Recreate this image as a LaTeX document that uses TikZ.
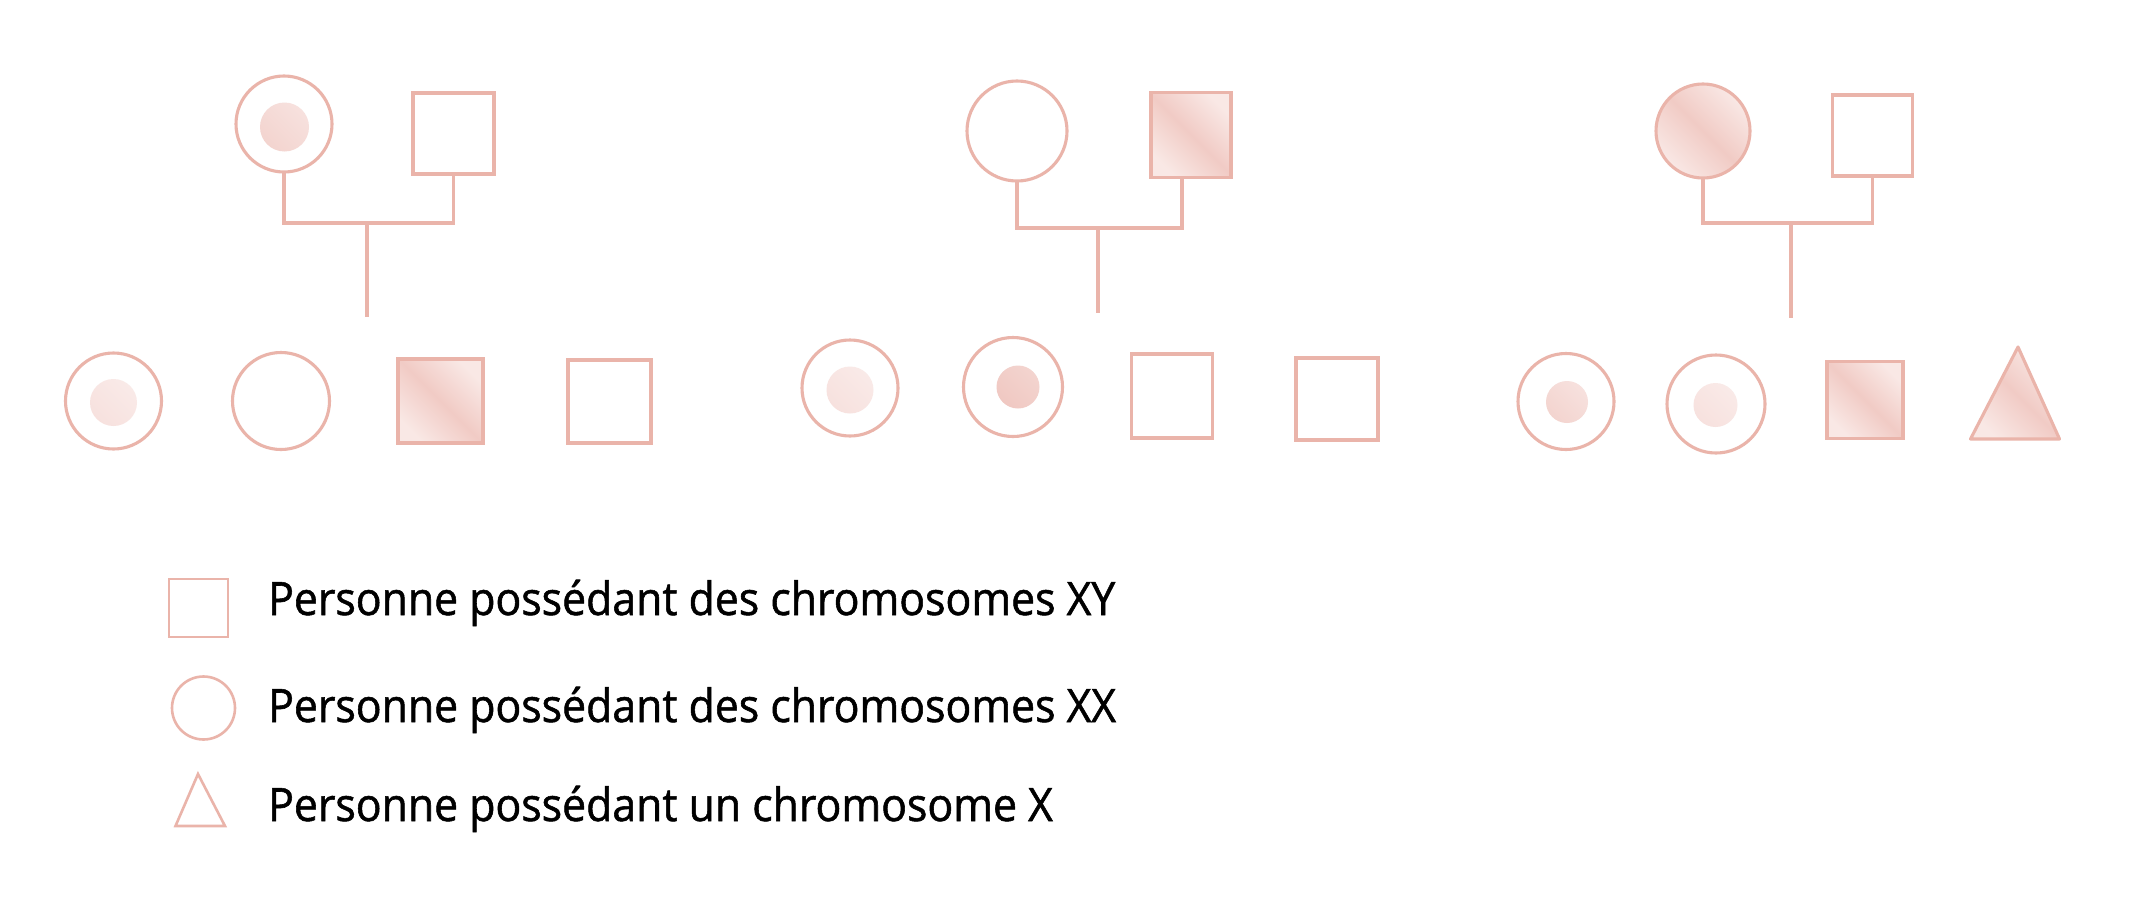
\documentclass[tikz,border=0pt]{standalone}
\usepackage{fontspec}
\setmainfont{Open Sans}
\definecolor{lineC}{RGB}{234,180,170}
\definecolor{pkL}{RGB}{249,232,229}
\definecolor{pkM}{RGB}{241,203,197}
\definecolor{dotL}{RGB}{247,225,222}
\definecolor{dotM}{RGB}{243,212,207}
\definecolor{dotD}{RGB}{240,200,194}
\tikzset{
  ped/.style={draw=lineC, line width=3.1pt, inner sep=0pt, outer sep=0pt},
  fem/.style={ped, circle, minimum size=#1},
  masc/.style={ped, rectangle},
  aff/.style={left color=pkL, right color=pkL, middle color=pkM, shading angle=135},
  dotlight/.style={circle, inner sep=0pt, draw=none, left color=dotL, right color=dotL!70!white, shading angle=135, minimum size=#1},
  dotmid/.style={circle, inner sep=0pt, draw=none, left color=dotM, right color=dotL, shading angle=135, minimum size=#1},
  dotdark/.style={circle, inner sep=0pt, draw=none, left color=dotD, right color=dotM, shading angle=135, minimum size=#1},
  link/.style={draw=lineC, line width=3.1pt},
  leg/.style={draw=lineC, line width=2.6pt, inner sep=0pt},
  legtext/.style={anchor=base west, inner sep=0pt, font=\fontsize{46}{52}\selectfont\addfontfeatures{FakeBold=1.2,FakeStretch=0.93}, text=black}
}
\begin{document}
\begin{tikzpicture}[x=1pt,y=-1pt]
\useasboundingbox[fill=white] (0,0) rectangle (2139,907);

% ---------- Family 1 ----------
\node[fem=96] (m1) at (284,124) {};
\node[dotmid=49] (m1d) at (284.5,127) {};
\node[masc, minimum width=81, minimum height=81] (f1) at (453.5,133.5) {};
\coordinate (j1) at (367,223);
\coordinate (e1) at (367,317);
\draw[link] (m1.south) |- (j1) -| (f1.south);
\draw[link] (j1) -- (e1);

\node[fem=96] (c11) at (113.5,401) {};
\node[dotlight=47] (c11d) at (113.5,402.5) {};
\node[fem=97] (c12) at (281,401) {};
\node[masc, aff, minimum width=85, minimum height=84] (c13) at (440.5,401) {};
\node[masc, minimum width=83, minimum height=83] (c14) at (609.5,401.5) {};

% ---------- Family 2 ----------
\node[fem=100] (m2) at (1017,131) {};
\node[masc, aff, minimum width=80, minimum height=85] (f2) at (1191,135) {};
\coordinate (j2) at (1098,228);
\coordinate (e2) at (1098,313);
\draw[link] (m2.south) |- (j2) -| ([xshift=-9pt]f2.south);
\draw[link] (j2) -- (e2);

\node[fem=96] (c21) at (850,388) {};
\node[dotlight=47] (c21d) at (850,390) {};
\node[fem=99] (c22) at (1013,387) {};
\node[dotdark=43] (c22d) at (1018,387) {};
\node[masc, minimum width=81, minimum height=84] (c23) at (1172,396) {};
\node[masc, minimum width=82, minimum height=82] (c24) at (1337,399) {};

% ---------- Family 3 ----------
\node[fem=94, aff] (m3) at (1703,131) {};
\node[masc, minimum width=80, minimum height=81] (f3) at (1872.5,135.5) {};
\coordinate (j3) at (1791,223);
\coordinate (e3) at (1791,318);
\draw[link] (m3.south) |- (j3) -| (f3.south);
\draw[link] (j3) -- (e3);

\node[fem=96] (c31) at (1566,401.5) {};
\node[dotmid=42] (c31d) at (1567,402) {};
\node[fem=98] (c32) at (1716,404) {};
\node[dotlight=44] (c32d) at (1715.5,405) {};
\node[masc, aff, minimum width=76, minimum height=77] (c33) at (1865,400) {};
\coordinate (t3a) at (2018,347);
\coordinate (t3b) at (2059.5,439);
\coordinate (t3c) at (1970.5,439);
\draw[link, line join=round, left color=pkL, right color=pkL, middle color=pkM, shading angle=135] (t3a) -- (t3b) -- (t3c) -- cycle;

% ---------- Legend ----------
\node[leg, rectangle, minimum width=59, minimum height=58] (l1) at (198.5,608) {};
\node[leg, circle, minimum size=63] (l2) at (203.5,708) {};
\coordinate (l3a) at (198,774);
\coordinate (l3b) at (225,826);
\coordinate (l3c) at (175.5,826);
\draw[line width=2.6pt, draw=lineC, line join=miter] (l3a) -- (l3b) -- (l3c) -- cycle;

\node[legtext] (t1) at (268,615) {Personne possédant des chromosomes XY};
\node[legtext] (t2) at (268,722) {Personne possédant des chromosomes XX};
\node[legtext] (t3) at (268,821) {Personne possédant un chromosome X};
\end{tikzpicture}
\end{document}
